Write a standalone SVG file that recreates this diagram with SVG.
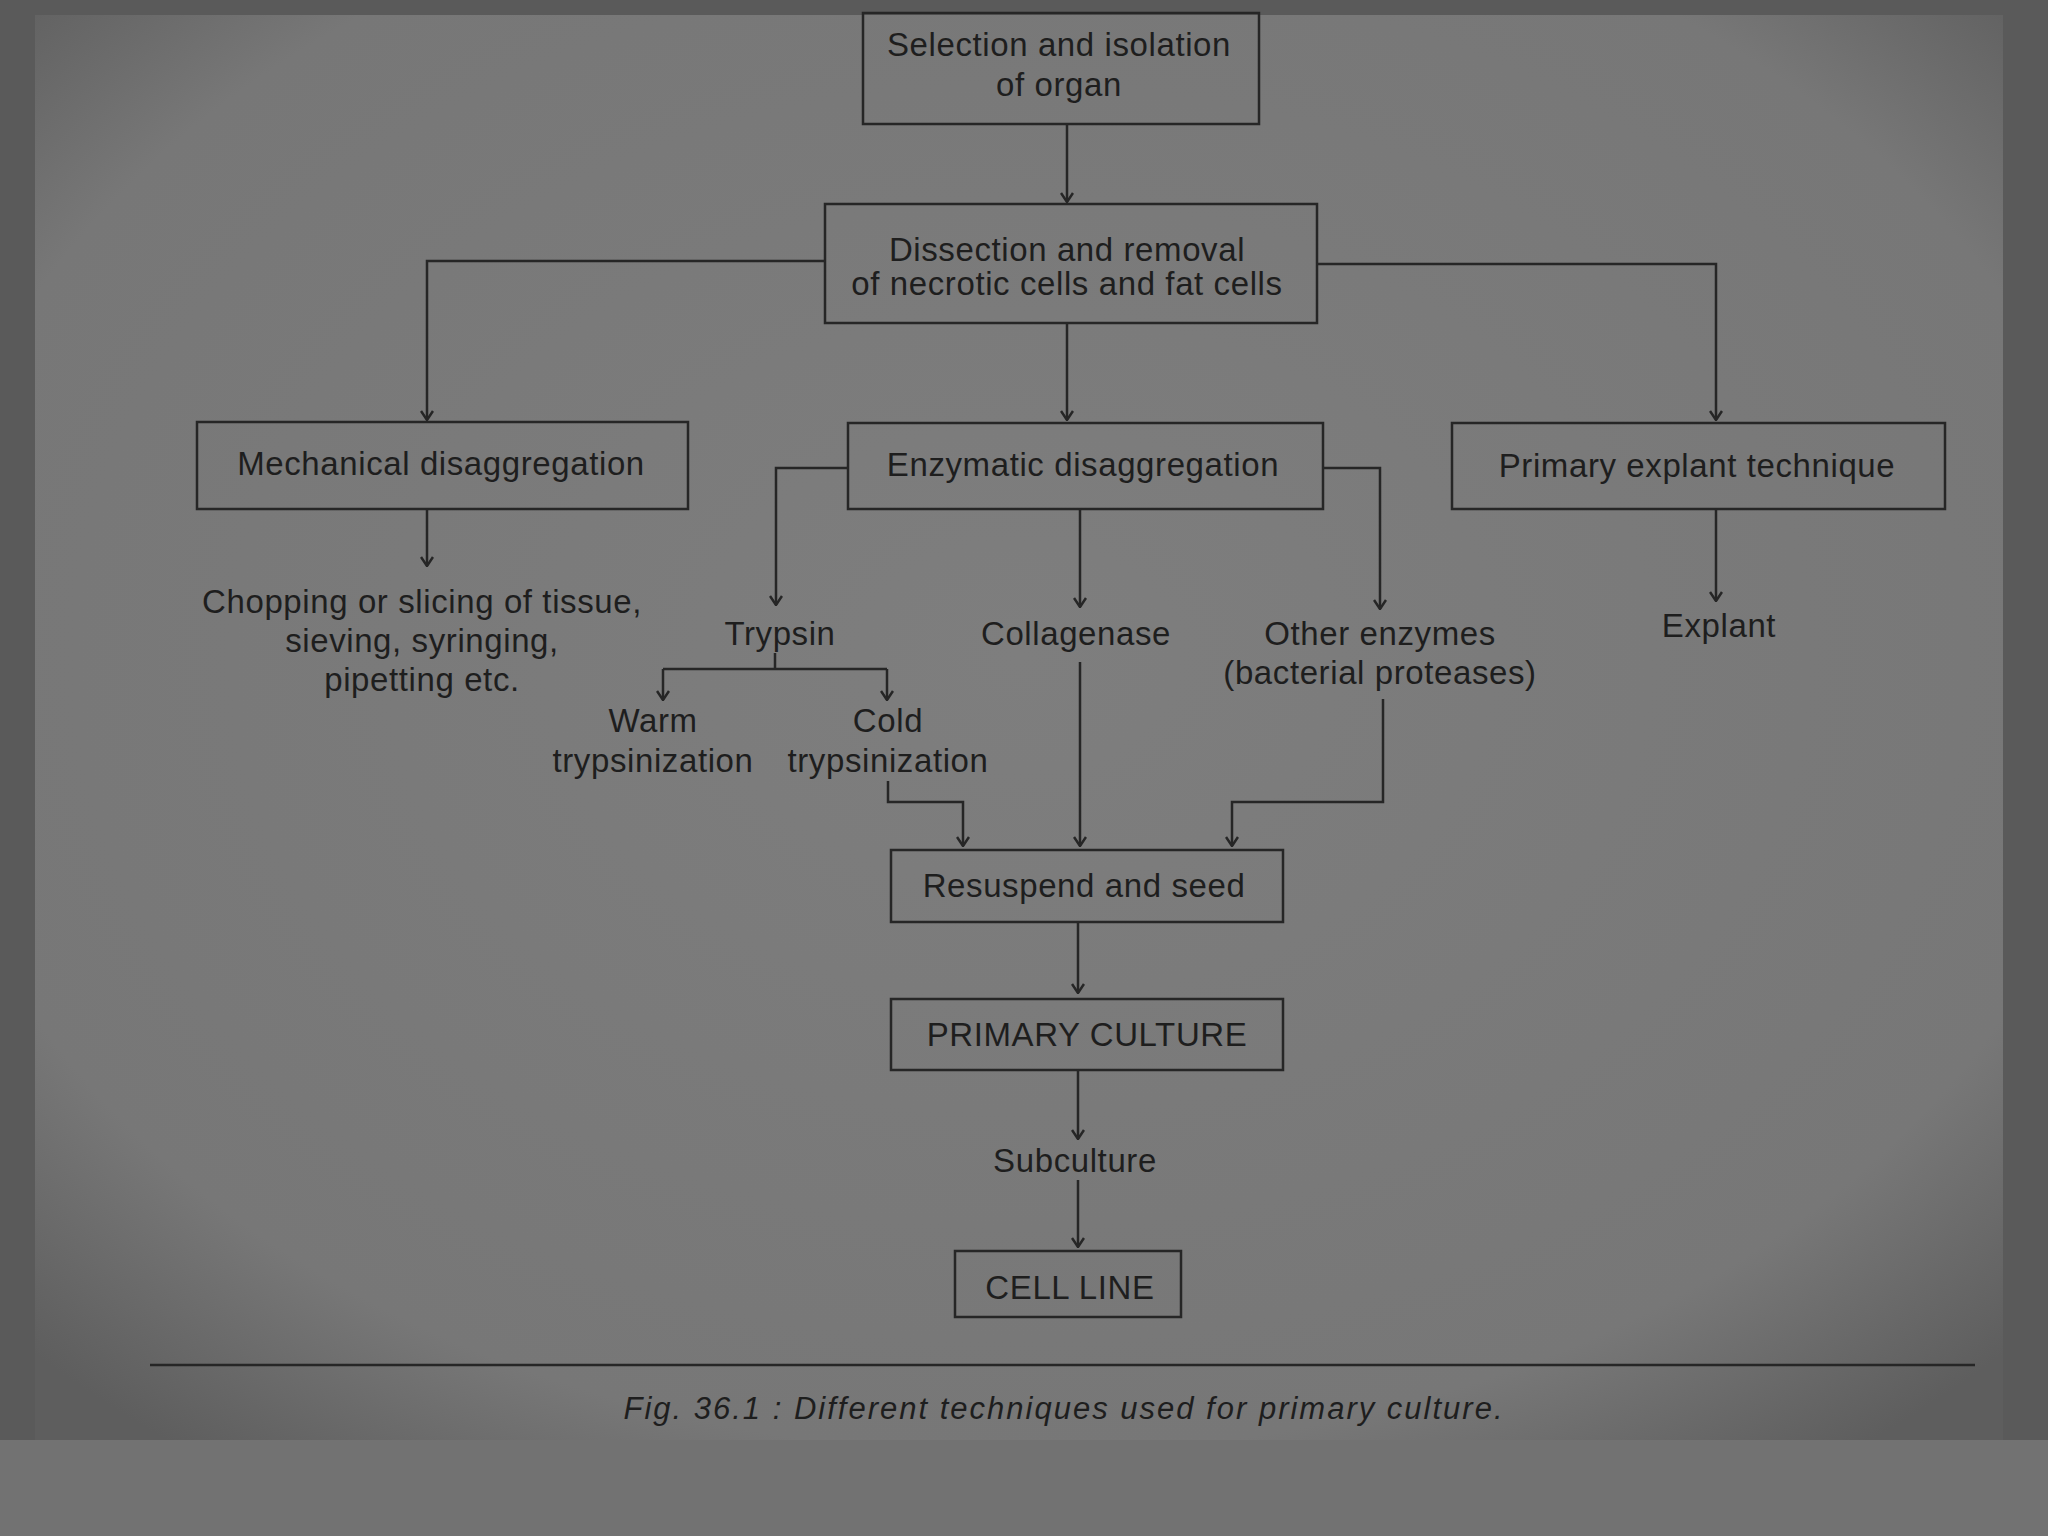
<svg xmlns="http://www.w3.org/2000/svg" width="2048" height="1536" viewBox="0 0 2048 1536">
<defs>
<style>
.b{fill:none;stroke:#262626;stroke-width:2.5}
.t{font-family:"Liberation Sans",Arial,sans-serif;font-size:33px;letter-spacing:0.6px;fill:#1e1e1e;text-anchor:middle}
.c{fill:none;stroke:#262626;stroke-width:2.5;marker-end:url(#a)}
.l{fill:none;stroke:#262626;stroke-width:2.5}
</style>
<marker id="a" viewBox="0 0 12 14" refX="11" refY="7" markerWidth="12" markerHeight="14" markerUnits="userSpaceOnUse" orient="auto">
<path d="M2,1 L11,7 L2,13" fill="none" stroke="#262626" stroke-width="2.5"/>
</marker>
<radialGradient id="g" cx="0.5" cy="0.45" r="0.7">
<stop offset="0" stop-color="#7e7e7e"/><stop offset="0.8" stop-color="#777"/><stop offset="1" stop-color="#5e5e5e"/>
</radialGradient>
</defs>
<rect width="2048" height="1536" fill="#5a5a5a"/>
<rect x="0" y="1440" width="2048" height="96" fill="#727272"/>
<rect x="35" y="15" width="1968" height="1425" fill="url(#g)"/>
<g id="n1"><rect class="b" x="863" y="13" width="396" height="111"/><text class="t" x="1059" y="56">Selection and isolation</text><text class="t" x="1059" y="96">of organ</text></g>
<g id="n2"><rect class="b" x="825" y="204" width="492" height="119"/><text class="t" x="1067" y="261">Dissection and removal</text><text class="t" x="1067" y="295">of necrotic cells and fat cells</text></g>
<g id="n3"><rect class="b" x="197" y="422" width="491" height="87"/><text class="t" x="441" y="475">Mechanical disaggregation</text></g>
<g id="n4"><rect class="b" x="848" y="423" width="475" height="86"/><text class="t" x="1083" y="476">Enzymatic disaggregation</text></g>
<g id="n5"><rect class="b" x="1452" y="423" width="493" height="86"/><text class="t" x="1697" y="477">Primary explant technique</text></g>
<g id="n6"><text class="t" x="422" y="613">Chopping or slicing of tissue,</text><text class="t" x="422" y="652">sieving, syringing,</text><text class="t" x="422" y="691">pipetting etc.</text></g>
<g id="n7"><text class="t" x="780" y="645">Trypsin</text></g>
<g id="n8"><text class="t" x="1076" y="645">Collagenase</text></g>
<g id="n9"><text class="t" x="1380" y="645">Other enzymes</text><text class="t" x="1380" y="684">(bacterial proteases)</text></g>
<g id="n10"><text class="t" x="1719" y="637">Explant</text></g>
<g id="n11"><text class="t" x="653" y="732">Warm</text><text class="t" x="653" y="772">trypsinization</text></g>
<g id="n12"><text class="t" x="888" y="732">Cold</text><text class="t" x="888" y="772">trypsinization</text></g>
<g id="n13"><rect class="b" x="891" y="850" width="392" height="72"/><text class="t" x="1084" y="897">Resuspend and seed</text></g>
<g id="n14"><rect class="b" x="891" y="999" width="392" height="71"/><text class="t" x="1087" y="1046">PRIMARY CULTURE</text></g>
<g id="n15"><text class="t" x="1075" y="1172">Subculture</text></g>
<g id="n16"><rect class="b" x="955" y="1251" width="226" height="66"/><text class="t" x="1070" y="1299">CELL LINE</text></g>
<g id="connectors">
<path class="c" d="M1067,124 V202"/>
<path class="c" d="M825,261 H427 V420"/>
<path class="c" d="M1317,264 H1716 V420"/>
<path class="c" d="M1067,323 V420"/>
<path class="c" d="M427,509 V566"/>
<path class="c" d="M848,468 H776 V605"/>
<path class="c" d="M1323,468 H1380 V609"/>
<path class="c" d="M1080,509 V607"/>
<path class="c" d="M1716,509 V601"/>
<path class="l" d="M775,653 V669 M663,669 H887"/>
<path class="c" d="M663,669 V700"/>
<path class="c" d="M887,669 V700"/>
<path class="c" d="M888,781 V802 H963 V846"/>
<path class="c" d="M1080,662 V846"/>
<path class="c" d="M1383,699 V802 H1232 V846"/>
<path class="c" d="M1078,922 V993"/>
<path class="c" d="M1078,1070 V1139"/>
<path class="c" d="M1078,1180 V1247"/>
</g>
<line x1="150" y1="1365" x2="1975" y2="1365" stroke="#262626" stroke-width="2.5"/>
<text x="1064" y="1419" font-family="'Liberation Sans',Arial,sans-serif" font-size="31" font-style="italic" letter-spacing="2" fill="#1e1e1e" text-anchor="middle">Fig. 36.1 : Different techniques used for primary culture.</text>
</svg>
